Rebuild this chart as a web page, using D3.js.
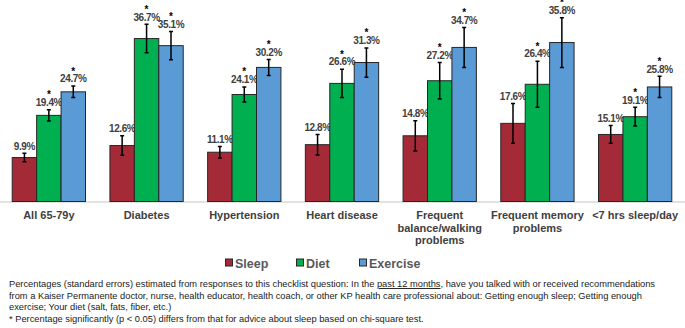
<!DOCTYPE html>
<html>
<head>
<meta charset="utf-8">
<script src="https://cdn.jsdelivr.net/npm/d3@7"></script>
<style>
  body { margin: 0; background: #fff; }
  svg { display: block; font-family: "Liberation Sans", Arial, sans-serif; }
</style>
</head>
<body>
<script>
// data
var categories = ["All 65-79y", "Diabetes", "Hypertension", "Heart disease",
                  "Frequent balance/walking problems", "Frequent memory problems", "<7 hrs sleep/day"];
var categoryLines = [["All 65-79y"], ["Diabetes"], ["Hypertension"], ["Heart disease"],
                     ["Frequent", "balance/walking", "problems"], ["Frequent memory", "problems"], ["<7 hrs sleep/day"]];
var seriesNames = ["Sleep", "Diet", "Exercise"];
var sleep = [9.9, 12.6, 11.1, 12.8, 14.8, 17.6, 15.1];
var diet = [19.4, 36.7, 24.1, 26.6, 27.2, 26.4, 19.1];
var exercise = [24.7, 35.1, 30.2, 31.3, 34.7, 35.8, 25.8];
var sleepErr = [0.95, 2.2, 1.3, 2.3, 3.4, 4.5, 2.0];
var dietErr = [1.25, 3.2, 1.7, 3.2, 4.1, 5.2, 2.1];
var exerciseErr = [1.3, 3.2, 1.8, 3.3, 4.5, 5.6, 2.4];
var significant = [false, true, true]; // per series, vs sleep

var colors = ["#A52A38", "#00B050", "#5B9BD5"];

var w = 685, h = 328, base = 201.5;

var svg = d3.select("body").append("svg")
	.attr("width", w)
	.attr("height", h);

var x0 = d3.scaleBand()
	.domain(categories)
	.range([0, 684])
	.paddingInner(0.25)
	.paddingOuter(0.125);

var x1 = d3.scaleBand()
	.domain(seriesNames)
	.range([0, x0.bandwidth()]);

var y = d3.scaleLinear()
	.domain([0, 40])
	.range([base, base - 40 * 4.44]);

var values = [sleep, diet, exercise];
var errs = [sleepErr, dietErr, exerciseErr];

var rows = [];
categories.forEach(function(c, i){
	seriesNames.forEach(function(s, j){
		rows.push({cat: c, ser: s, j: j, v: values[j][i], e: errs[j][i]});
	});
});

// axis line
var axis = svg.append("g")
	.attr("transform", "translate(0," + base + ")")
	.call(d3.axisBottom(x0).tickSize(0).tickPadding(0));
axis.select(".domain").attr("stroke", "#d9d9d9").attr("stroke-width", 1.5)
	.attr("d", "M0,0.5H" + w);
axis.selectAll(".tick text").remove();
axis.selectAll(".tick").each(function(d, i){
	var t = d3.select(this).append("text")
		.attr("fill", "#404040")
		.attr("font-size", "11px")
		.attr("font-weight", "bold")
		.attr("text-anchor", "middle");
	categoryLines[i].forEach(function(line, k){
		t.append("tspan").attr("x", 0).attr("y", 17.5 + k * 12.7).text(line);
	});
});

var g = svg.append("g");

var grp = g.selectAll("g.bar")
	.data(rows)
	.enter()
	.append("g")
	.attr("class", "bar")
	.attr("transform", function(d){ return "translate(" + (x0(d.cat) + x1(d.ser)) + ",0)"; });

grp.append("rect")
	.attr("x", 0)
	.attr("y", function(d){ return y(d.v); })
	.attr("width", x1.bandwidth())
	.attr("height", function(d){ return base - y(d.v); })
	.attr("fill", function(d){ return colors[d.j]; })
	.attr("stroke", "#262626")
	.attr("stroke-width", 1);

var cx = x1.bandwidth() / 2;
grp.append("path")
	.attr("d", function(d){
		var t = y(d.v + d.e), b = y(d.v - d.e);
		return "M" + cx + "," + t + "V" + b +
			"M" + (cx - 2) + "," + t + "H" + (cx + 2) +
			"M" + (cx - 2) + "," + b + "H" + (cx + 2);
	})
	.attr("stroke", "#000")
	.attr("stroke-width", 1.5)
	.attr("fill", "none");

grp.append("text")
	.attr("x", cx)
	.attr("y", function(d){ return y(d.v + d.e) - 3.7; })
	.attr("text-anchor", "middle")
	.attr("font-size", "10px")
	.attr("font-weight", "bold")
	.attr("letter-spacing", "-0.4px")
	.attr("fill", "#404040")
	.text(function(d){ return d.v.toFixed(1) + "%"; });

grp.filter(function(d){ return significant[d.j]; })
	.append("text")
	.attr("x", cx)
	.attr("y", function(d){ return y(d.v + d.e) - 3.7 - 7.8; })
	.attr("text-anchor", "middle")
	.attr("font-size", "10px")
	.attr("font-weight", "bold")
	.attr("fill", "#000")
	.text("*");

// legend
var legX = [225.5, 296.5, 359.5];
var leg = svg.append("g").selectAll("g")
	.data(seriesNames)
	.enter()
	.append("g")
	.attr("transform", function(d, i){ return "translate(" + legX[i] + ",259)"; });
leg.append("rect")
	.attr("width", 7).attr("height", 7)
	.attr("fill", function(d, i){ return colors[i]; })
	.attr("stroke", "#262626").attr("stroke-width", 1);
leg.append("text")
	.attr("x", 9.5)
	.attr("y", 8.5)
	.attr("font-size", "12.5px")
	.attr("font-weight", "bold")
	.attr("fill", "#595959")
	.text(function(d){ return d; });

// footnote
var note = svg.append("text")
	.attr("font-size", "9.3px")
	.attr("fill", "#1a1a1a");
var l1 = note.append("tspan").attr("x", 9).attr("y", 287);
l1.append("tspan").text("Percentages (standard errors) estimated from responses to this checklist question: In the ");
l1.append("tspan").attr("text-decoration", "underline").text("past 12 months");
l1.append("tspan").text(", have you talked with or received recommendations");
note.append("tspan").attr("x", 9).attr("y", 298.5)
	.text("from a Kaiser Permanente doctor, nurse, health educator, health coach, or other KP health care professional about: Getting enough sleep; Getting enough");
note.append("tspan").attr("x", 9).attr("y", 310)
	.text("exercise; Your diet (salt, fats, fiber, etc.)");
note.append("tspan").attr("x", 9).attr("y", 321.5)
	.text("* Percentage significantly (p < 0.05) differs from that for advice about sleep based on chi-square test.");
</script>
</body>
</html>
